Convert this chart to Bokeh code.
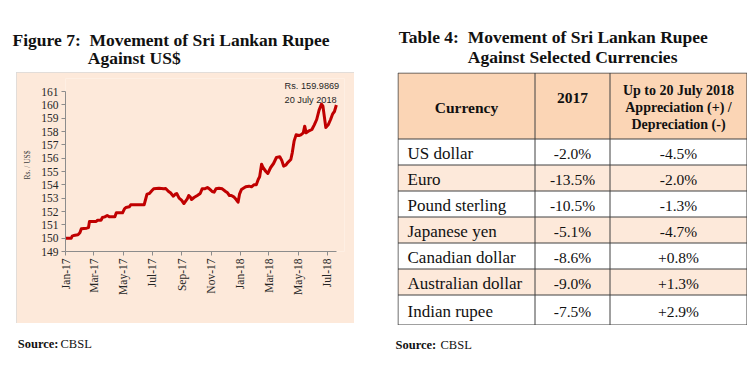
import pandas as pd
from math import pi
from bokeh.plotting import figure
from bokeh.models import (Range1d, Label, FixedTicker, MonthsTicker,
                          DatetimeTickFormatter, Spacer, ColumnDataSource)
from bokeh.layouts import row, column
from bokeh.core.properties import value
from bokeh.embed import file_html
from bokeh.resources import INLINE

# ---------------- data ----------------
dates = [
    "2017-01-02", "2017-01-13", "2017-01-15", "2017-01-18", "2017-01-27", "2017-01-31",
    "2017-02-03", "2017-02-14", "2017-02-18", "2017-02-20", "2017-03-06", "2017-03-09",
    "2017-03-16", "2017-03-19", "2017-03-24", "2017-03-29", "2017-04-03", "2017-04-14",
    "2017-04-17", "2017-04-30", "2017-05-04", "2017-05-07", "2017-05-14", "2017-05-17",
    "2017-06-14", "2017-06-17", "2017-06-20", "2017-06-25", "2017-06-30", "2017-07-04",
    "2017-07-15", "2017-07-25", "2017-07-29", "2017-08-04", "2017-08-08", "2017-08-14",
    "2017-08-18", "2017-08-21", "2017-08-26", "2017-08-31", "2017-09-05", "2017-09-09",
    "2017-09-12", "2017-09-15", "2017-09-18", "2017-09-21", "2017-09-26", "2017-10-03",
    "2017-10-09", "2017-10-13", "2017-10-18", "2017-10-24", "2017-10-28", "2017-10-31",
    "2017-11-03", "2017-11-07", "2017-11-11", "2017-11-17", "2017-11-24", "2017-12-01",
    "2017-12-05", "2017-12-09", "2017-12-13", "2017-12-18", "2017-12-23", "2017-12-27",
    "2017-12-30", "2018-01-03", "2018-01-12", "2018-01-19", "2018-01-24", "2018-01-29",
    "2018-02-03", "2018-02-07", "2018-02-10", "2018-02-14", "2018-02-17", "2018-02-23",
    "2018-02-27", "2018-03-05", "2018-03-11", "2018-03-17", "2018-03-24", "2018-03-28",
    "2018-04-01", "2018-04-06", "2018-04-09", "2018-04-16", "2018-04-19", "2018-04-23",
    "2018-04-27", "2018-05-03", "2018-05-07", "2018-05-12", "2018-05-15", "2018-05-18",
    "2018-05-24", "2018-05-30", "2018-06-04", "2018-06-09", "2018-06-14", "2018-06-19",
    "2018-06-22", "2018-06-25", "2018-06-28", "2018-07-03", "2018-07-08", "2018-07-12",
    "2018-07-16", "2018-07-20",
]
usd_rate = [
    150.00, 150.00, 150.15, 150.20, 150.25, 150.40,
    150.70, 150.75, 150.80, 151.25, 151.25, 151.35,
    151.35, 151.55, 151.60, 151.70, 151.60, 151.60,
    151.90, 151.90, 152.20, 152.30, 152.35, 152.50,
    152.50, 152.90, 153.30, 153.35, 153.55, 153.70,
    153.75, 153.70, 153.72, 153.50, 153.40, 153.15,
    153.30, 153.35, 153.00, 152.85, 152.60, 152.80,
    152.95, 153.20, 153.10, 152.90, 153.05, 153.20,
    153.35, 153.70, 153.70, 153.80, 153.70, 153.60,
    153.50, 153.45, 153.70, 153.75, 153.70, 153.50,
    153.40, 153.20, 153.20, 153.10, 152.90, 152.70,
    153.30, 153.65, 153.85, 153.90, 153.85, 154.00,
    154.00, 154.40, 154.60, 155.55, 155.30, 155.00,
    154.85, 155.30, 155.60, 156.05, 156.10, 155.85,
    155.40, 155.50, 155.65, 155.90, 156.40, 157.30,
    157.75, 157.70, 157.75, 157.90, 158.40, 157.90,
    158.05, 158.15, 158.50, 158.90, 159.60, 160.05,
    159.90, 159.10, 158.30, 158.50, 158.90, 159.30,
    159.50, 159.99,
]
y_ticks = list(range(149, 162))
x_tick_months = [0, 2, 4, 6, 8, 10]
x_start, x_axis_end, x_view_end = "2017-01-01", "2018-07-20 12:00", "2018-08-06"
y_view_top = 161.975
note_lines = ["Rs. 159.9869", "20 July 2018"]
note_date = "2018-04-03"
note_levels = [161.38, 160.38]

currencies = ["US dollar", "Euro", "Pound sterling", "Japanese yen",
              "Canadian dollar", "Australian dollar", "Indian rupee"]
change_2017 = [-2.0, -13.5, -10.5, -5.1, -8.6, -9.0, -7.5]
change_2018 = [-4.5, -2.0, -1.3, -4.7, 0.8, 1.3, 2.9]
header_cols = ["Currency", "2017"]
header_last = ["Up to 20 July 2018", "Appreciation (+) /", "Depreciation (-)"]

fig_title = ["Figure 7:\u00a0 Movement of Sri Lankan Rupee", "Against US$"]
tab_title = ["Table 4:\u00a0 Movement of Sri Lankan Rupee", "Against Selected Currencies"]

# ---------------- style ----------------
SERIF = "Liberation Serif"
SANS = "Liberation Sans"
PEACH = "#FDE9DA"
HEAD = "#FBD5B5"
LINE_RED = "#C00000"
AXIS_GRAY = "#8C8C8C"
TXT = "#111111"


def blank(w, h):
    f = figure(width=w, height=h, x_range=Range1d(0, w), y_range=Range1d(h, 0),
               x_axis_location=None, y_axis_location=None,
               toolbar_location=None, output_backend="svg", min_border=0,
               outline_line_color=None, background_fill_color="white",
               border_fill_color="white", frame_align=False)
    f.grid.visible = False
    return f


# ---------------- top titles ----------------
top = blank(750, 72)
top.text(x=[12, 87.3, 398.3, 467.3],
         y=[39.7, 57.8, 36.7, 56.7],
         text=[fig_title[0], fig_title[1], tab_title[0], tab_title[1]],
         text_font=value(SERIF), text_font_style="bold", text_font_size="17.5px",
         text_baseline="alphabetic", text_align="left", text_color=TXT)

# ---------------- chart ----------------
src = ColumnDataSource(dict(date=pd.to_datetime(dates), rate=usd_rate))
p = figure(width=338, height=251, x_axis_type="datetime",
           x_range=Range1d(pd.Timestamp(x_start), pd.Timestamp(x_view_end)),
           y_range=Range1d(y_ticks[0], y_view_top),
           min_border_left=49, min_border_right=10, min_border_top=6,
           min_border_bottom=72, toolbar_location=None, output_backend="svg",
           background_fill_color=PEACH, border_fill_color=PEACH,
           outline_line_color=None, frame_align=False,
           styles={"outline": "1px solid #D9D9D9", "outline-offset": "-1px"})
p.grid.visible = False
p.line(x="date", y="rate", source=src, line_color=LINE_RED, line_width=3,
       line_join="round")

xa = p.xaxis[0]
xa.ticker = MonthsTicker(months=x_tick_months)
xa.formatter = DatetimeTickFormatter(months="%b-%y", days="%b-%y", years="%b-%y")
xa.major_label_orientation = pi / 2
xa.bounds = (pd.Timestamp(x_start), pd.Timestamp(x_axis_end))
ya = p.yaxis[0]
ya.ticker = FixedTicker(ticks=y_ticks)
ya.bounds = (y_ticks[0], y_ticks[-1])
ya.axis_label = "Rs. / US$"
ya.axis_label_text_font = SERIF
ya.axis_label_text_font_size = "7.5px"
ya.axis_label_text_font_style = "normal"
ya.axis_label_text_color = "#404040"
ya.axis_label_standoff = 6
for ax in (xa, ya):
    ax.axis_line_color = AXIS_GRAY
    ax.major_tick_line_color = AXIS_GRAY
    ax.minor_tick_line_color = None
    ax.major_tick_in = 0
    ax.major_tick_out = 4
    ax.major_label_text_font = SERIF
    ax.major_label_text_font_size = "11.5px"
    ax.major_label_text_color = "#262626"
    ax.major_label_standoff = 3

note_x = pd.Timestamp(note_date).timestamp() * 1000
for txt, lvl in zip(note_lines, note_levels):
    p.add_layout(Label(x=note_x, y=lvl, text=txt, text_font=SANS,
                       text_font_size="9.2px", text_color="#262626",
                       text_baseline="middle", text_align="left"))

# ---------------- table ----------------
TW, TH = 350, 253
t = blank(TW, TH)
col_x = [0.5, 137.5, 212.5, TW - 0.5]
head_top, head_bot = 0.5, 66.5
row_h = 26
n = len(currencies)
row_top = [head_bot + row_h * i for i in range(n)]
row_bot = [head_bot + row_h * (i + 1) for i in range(n)]
row_bot[-1] = TH - 0.5
row_fill = ["white" if i % 2 == 0 else PEACH for i in range(n)]

t.quad(left=[col_x[0]], right=[col_x[-1]], top=[head_top], bottom=[head_bot],
       fill_color=HEAD, line_color=None)
t.quad(left=col_x[0], right=col_x[-1], top=row_top, bottom=row_bot,
       fill_color=row_fill, line_color=None)

hx0 = [col_x[0]] * (n + 2)
hx1 = [col_x[-1]] * (n + 2)
hy = [head_top, head_bot] + row_bot
t.segment(x0=hx0, y0=hy, x1=hx1, y1=hy, line_color="#404040", line_width=1)
t.segment(x0=col_x, y0=[head_top] * 4, x1=col_x, y1=[TH - 0.5] * 4,
          line_color="#404040", line_width=1)

c1 = (col_x[0] + col_x[1]) / 2
c2 = (col_x[1] + col_x[2]) / 2
c3 = (col_x[2] + col_x[3]) / 2
t.text(x=[c1, c2], y=[35, 25], text=header_cols, text_font=value(SERIF),
       text_font_style="bold", text_font_size="15.5px", text_align="center",
       text_baseline="middle", text_color=TXT)
t.text(x=[c3] * 3, y=[18, 35, 51.5], text=header_last, text_font=value(SERIF),
       text_font_style="bold", text_font_size="14px", text_align="center",
       text_baseline="middle", text_color=TXT)

mid = [(a + b) / 2 + 1 for a, b in zip(row_top, row_bot)]
t.text(x=[10] * n, y=mid, text=currencies, text_font=value(SERIF),
       text_font_size="17px", text_align="left", text_baseline="middle",
       text_color=TXT)
t.text(x=[c2] * n, y=mid, text=[f"{v:.1f}%" for v in change_2017],
       text_font=value(SERIF), text_font_size="15.5px", text_align="center",
       text_baseline="middle", text_color=TXT)
t.text(x=[c3] * n, y=mid, text=[f"{v:+.1f}%" for v in change_2018],
       text_font=value(SERIF), text_font_size="15.5px", text_align="center",
       text_baseline="middle", text_color=TXT)

# ---------------- sources ----------------
bot = blank(750, 42)
bot.text(x=[17.3, 395], y=[18.3, 19], text=["Source:", "Source:"],
         text_font=value(SERIF), text_font_style="bold", text_font_size="12.5px",
         text_baseline="alphabetic", text_color=TXT)
bot.text(x=[60, 440], y=[18.3, 19], text=["CBSL", "CBSL"],
         text_font=value(SERIF), text_font_size="12.5px",
         text_baseline="alphabetic", text_color=TXT)

middle = row(Spacer(width=16, height=251), p, Spacer(width=43, height=253), t,
             Spacer(width=3, height=253))
layout = column(top, middle, bot)

open("out.html", "w").write(file_html(layout, INLINE))
